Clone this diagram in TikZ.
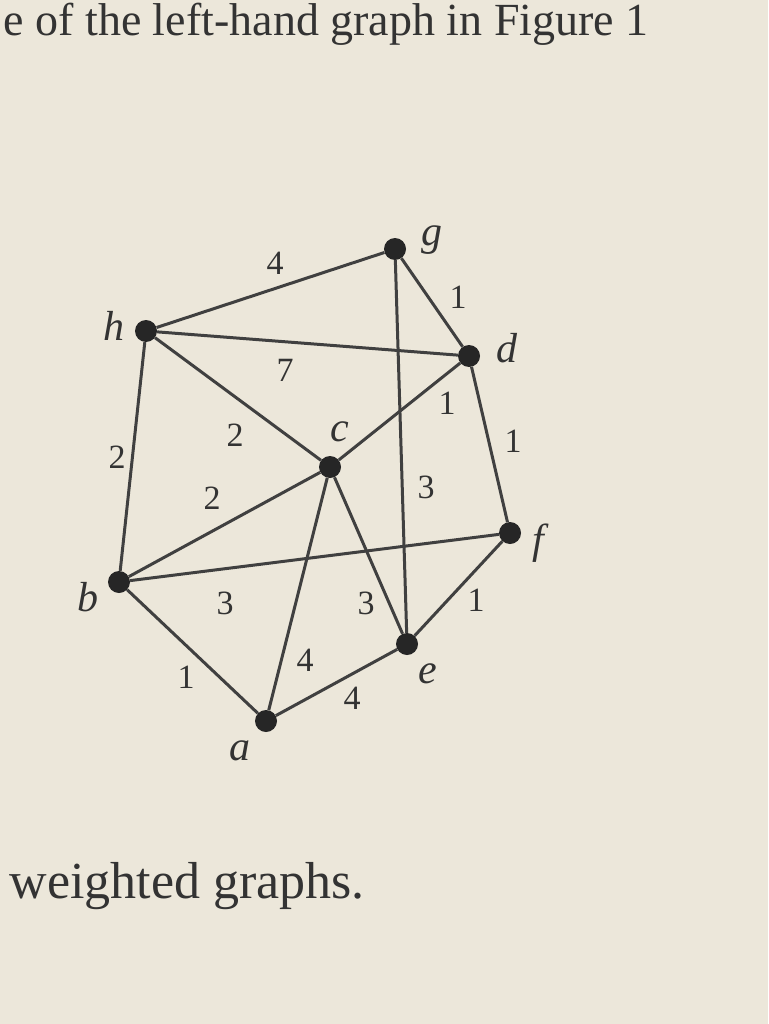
\documentclass[tikz,border=0pt]{standalone}
\usepackage{fontspec}
\setmainfont{Liberation Serif}
\begin{document}
\begin{tikzpicture}[x=1pt,y=-1pt,
  vert/.style={circle,fill=black!85,inner sep=0pt,minimum size=22pt},
  edge/.style={draw=black!75,line width=3pt},
  wt/.style={font=\fontsize{34}{34}\selectfont,text=black!80},
  vl/.style={font=\fontsize{42}{42}\selectfont\itshape,text=black!80}]
\fill[color={rgb,255:red,236;green,231;blue,218}] (0,0) rectangle (768,1024);
\useasboundingbox (0,0) rectangle (768,1024);
\node[anchor=base west,font=\fontsize{46}{46}\selectfont,text=black!80] (top) at (0,36) {e of the left-hand graph in Figure 1};
\node[vert] (g) at (395,249) {};
\node[vert] (h) at (146,331) {};
\node[vert] (d) at (469,356) {};
\node[vert] (c) at (330,467) {};
\node[vert] (f) at (510,533) {};
\node[vert] (b) at (119,582) {};
\node[vert] (e) at (407,644) {};
\node[vert] (a) at (266,721) {};
\draw[edge] (h)--(g); \draw[edge] (g)--(d); \draw[edge] (h)--(d);
\draw[edge] (h)--(c); \draw[edge] (d)--(c); \draw[edge] (d)--(f);
\draw[edge] (h)--(b); \draw[edge] (g)--(e); \draw[edge] (c)--(b);
\draw[edge] (b)--(f); \draw[edge] (c)--(a); \draw[edge] (c)--(e);
\draw[edge] (b)--(a); \draw[edge] (a)--(e); \draw[edge] (f)--(e);
\node[wt] (w1) at (275,263) {4};
\node[wt] (w2) at (458,297) {1};
\node[wt] (w3) at (285,370) {7};
\node[wt] (w4) at (447,403) {1};
\node[wt] (w5) at (513,441) {1};
\node[wt] (w6) at (235,435) {2};
\node[wt] (w7) at (117,457) {2};
\node[wt] (w8) at (212,498) {2};
\node[wt] (w9) at (426,487) {3};
\node[wt] (w10) at (225,603) {3};
\node[wt] (w11) at (366,603) {3};
\node[wt] (w12) at (476,600) {1};
\node[wt] (w13) at (305,660) {4};
\node[wt] (w14) at (186,677) {1};
\node[wt] (w15) at (352,698) {4};
\node[vl] (lg) at (432,240) {g};
\node[vl] (ld) at (507,348) {d};
\node[vl] (lh) at (114,326) {h};
\node[vl] (lc) at (340,432) {c};
\node[vl] (lf) at (538,543) {f};
\node[vl] (lb) at (88,597) {b};
\node[vl] (le) at (428,674) {e};
\node[vl] (la) at (240,751) {a};
\node[anchor=base west,font=\fontsize{52}{52}\selectfont,text=black!80] (cap) at (6,898) {weighted graphs.};
\end{tikzpicture}
\end{document}
